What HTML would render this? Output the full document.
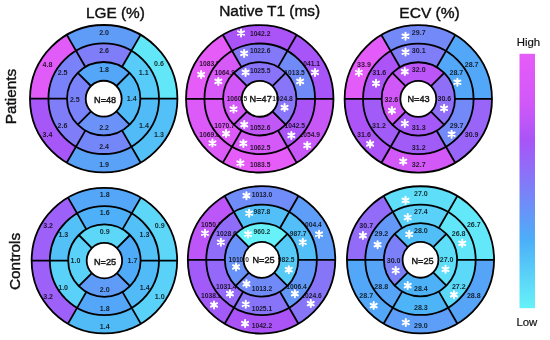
<!DOCTYPE html>
<html><head><meta charset="utf-8"><style>
html,body{margin:0;padding:0;background:#fff;}
body{width:550px;height:340px;overflow:hidden;}
svg{display:block;}
text{font-family:"Liberation Sans",Arial,sans-serif;}
.v{font-size:6.7px;font-weight:bold;fill:rgba(0,0,0,0.8);}
.n{font-size:9.6px;fill:#1a1a1a;stroke:#1a1a1a;stroke-width:0.45px;}
.t{font-size:15.5px;fill:#111;stroke:#111;stroke-width:0.4px;}
.c{font-size:11.4px;fill:#111;stroke:#111;stroke-width:0.2px;}
</style></head><body>
<svg width="550" height="340" viewBox="0 0 550 340">
<defs><linearGradient id="cb" x1="0" y1="0" x2="0" y2="1"><stop offset="0.000" stop-color="#E65CF8"/><stop offset="0.200" stop-color="#D058F8"/><stop offset="0.340" stop-color="#A954F8"/><stop offset="0.500" stop-color="#8478F8"/><stop offset="0.730" stop-color="#4CAEF8"/><stop offset="1.000" stop-color="#66F2F8"/></linearGradient></defs>
<text class="t" x="85.9" y="17.7" textLength="59" lengthAdjust="spacingAndGlyphs">LGE (%)</text>
<text class="t" x="219.2" y="16.3" textLength="101" lengthAdjust="spacingAndGlyphs">Native T1 (ms)</text>
<text class="t" x="399.3" y="17.7" textLength="60.5" lengthAdjust="spacingAndGlyphs">ECV (%)</text>
<text class="t" transform="translate(16.2,124.3) rotate(-90)" x="0" y="0" textLength="55.5" lengthAdjust="spacingAndGlyphs">Patients</text>
<text class="t" transform="translate(19.5,290.1) rotate(-90)" x="0" y="0" textLength="57.3" lengthAdjust="spacingAndGlyphs">Controls</text>
<path d="M140.56,34.86A73.72,73.72 0 0 0 66.84,34.86L76.06,50.82A55.29,55.29 0 0 1 131.34,50.82Z" fill="#5f9cf8"/>
<path d="M66.84,34.86A73.72,73.72 0 0 0 29.98,98.70L48.41,98.70A55.29,55.29 0 0 1 76.06,50.82Z" fill="#e15bf8"/>
<path d="M29.98,98.70A73.72,73.72 0 0 0 66.84,162.54L76.05,146.58A55.29,55.29 0 0 1 48.41,98.70Z" fill="#a756f8"/>
<path d="M66.84,162.54A73.72,73.72 0 0 0 140.56,162.54L131.34,146.58A55.29,55.29 0 0 1 76.05,146.58Z" fill="#5aa1f8"/>
<path d="M140.56,162.54A73.72,73.72 0 0 0 177.42,98.70L158.99,98.70A55.29,55.29 0 0 1 131.34,146.58Z" fill="#53c1f8"/>
<path d="M177.42,98.70A73.72,73.72 0 0 0 140.56,34.86L131.34,50.82A55.29,55.29 0 0 1 158.99,98.70Z" fill="#62e7f8"/>
<text x="104.10" y="35.25" text-anchor="middle" class="v" style="font-size:7.1px">2.0</text>
<text x="42.50" y="66.50" text-anchor="start" class="v" style="font-size:7.1px">4.8</text>
<text x="42.50" y="136.90" text-anchor="start" class="v" style="font-size:7.1px">3.4</text>
<text x="104.10" y="166.65" text-anchor="middle" class="v" style="font-size:7.1px">1.9</text>
<text x="163.90" y="136.60" text-anchor="end" class="v" style="font-size:7.1px">1.3</text>
<text x="163.90" y="66.30" text-anchor="end" class="v" style="font-size:7.1px">0.6</text>
<path d="M131.34,50.82A55.29,55.29 0 0 0 76.06,50.82L85.36,66.94A36.68,36.68 0 0 1 122.04,66.94Z" fill="#7f7df8"/>
<path d="M76.06,50.82A55.29,55.29 0 0 0 48.41,98.70L67.02,98.70A36.68,36.68 0 0 1 85.36,66.94Z" fill="#7982f8"/>
<path d="M48.41,98.70A55.29,55.29 0 0 0 76.05,146.58L85.36,130.46A36.68,36.68 0 0 1 67.02,98.70Z" fill="#7f7df8"/>
<path d="M76.05,146.58A55.29,55.29 0 0 0 131.34,146.58L122.04,130.46A36.68,36.68 0 0 1 85.36,130.46Z" fill="#7487f8"/>
<path d="M131.34,146.58A55.29,55.29 0 0 0 158.99,98.70L140.38,98.70A36.68,36.68 0 0 1 122.04,130.46Z" fill="#51bbf8"/>
<path d="M158.99,98.70A55.29,55.29 0 0 0 131.34,50.82L122.04,66.94A36.68,36.68 0 0 1 140.38,98.70Z" fill="#57ccf8"/>
<text x="104.10" y="53.05" text-anchor="middle" class="v" style="font-size:7.1px">2.6</text>
<text x="57.70" y="75.10" text-anchor="start" class="v" style="font-size:7.1px">2.5</text>
<text x="57.50" y="127.90" text-anchor="start" class="v" style="font-size:7.1px">2.6</text>
<text x="104.10" y="149.35" text-anchor="middle" class="v" style="font-size:7.1px">2.4</text>
<text x="148.90" y="127.70" text-anchor="end" class="v" style="font-size:7.1px">1.4</text>
<text x="148.70" y="75.10" text-anchor="end" class="v" style="font-size:7.1px">1.1</text>
<path d="M129.63,72.77A36.68,36.68 0 0 0 77.77,72.77L90.99,85.99A17.97,17.97 0 0 1 116.41,85.99Z" fill="#54a6f8"/>
<path d="M77.77,72.77A36.68,36.68 0 0 0 77.77,124.63L90.99,111.41A17.97,17.97 0 0 1 90.99,85.99Z" fill="#7982f8"/>
<path d="M77.77,124.63A36.68,36.68 0 0 0 129.63,124.63L116.41,111.41A17.97,17.97 0 0 1 90.99,111.41Z" fill="#6a92f8"/>
<path d="M129.63,124.63A36.68,36.68 0 0 0 129.63,72.77L116.41,85.99A17.97,17.97 0 0 1 116.41,111.41Z" fill="#51bbf8"/>
<circle cx="103.7" cy="98.7" r="17.97" fill="#fff"/>
<text x="104.10" y="72.15" text-anchor="middle" class="v" style="font-size:7.1px">1.8</text>
<text x="69.90" y="101.50" text-anchor="start" class="v" style="font-size:7.1px">2.5</text>
<text x="104.10" y="130.05" text-anchor="middle" class="v" style="font-size:7.1px">2.2</text>
<text x="136.70" y="101.10" text-anchor="end" class="v" style="font-size:7.1px">1.4</text>
<text x="105.10" y="102.60" text-anchor="middle" class="n" textLength="22.2" lengthAdjust="spacingAndGlyphs">N=48</text>
<g fill="none" stroke="#000" stroke-width="1.8"><circle cx="103.7" cy="98.7" r="17.97" fill="none"/><circle cx="103.7" cy="98.7" r="36.68" fill="none"/><circle cx="103.7" cy="98.7" r="55.29" fill="none"/><circle cx="103.7" cy="98.7" r="73.72" fill="none"/><path d="M140.56,98.70L177.42,98.70M122.13,66.78L140.56,34.86M85.27,66.78L66.84,34.86M66.84,98.70L29.98,98.70M85.27,130.62L66.84,162.54M122.13,130.62L140.56,162.54M116.41,85.99L129.63,72.77M90.99,85.99L77.77,72.77M90.99,111.41L77.77,124.63M116.41,111.41L129.63,124.63"/></g><path d="M296.61,34.96A73.72,73.72 0 0 0 222.89,34.96L232.11,50.92A55.29,55.29 0 0 1 287.39,50.92Z" fill="#aa54f8"/>
<path d="M222.89,34.96A73.72,73.72 0 0 0 186.03,98.80L204.46,98.80A55.29,55.29 0 0 1 232.11,50.92Z" fill="#e65cf8"/>
<path d="M186.03,98.80A73.72,73.72 0 0 0 222.89,162.64L232.10,146.68A55.29,55.29 0 0 1 204.46,98.80Z" fill="#db5af8"/>
<path d="M222.89,162.64A73.72,73.72 0 0 0 296.61,162.64L287.39,146.68A55.29,55.29 0 0 1 232.10,146.68Z" fill="#e65cf8"/>
<path d="M296.61,162.64A73.72,73.72 0 0 0 333.47,98.80L315.04,98.80A55.29,55.29 0 0 1 287.39,146.68Z" fill="#c857f8"/>
<path d="M333.47,98.80A73.72,73.72 0 0 0 296.61,34.96L287.39,50.92A55.29,55.29 0 0 1 315.04,98.80Z" fill="#a755f8"/>
<text x="260.15" y="35.60" text-anchor="middle" class="v" style="font-size:6.7px">1042.2</text>
<text x="199.25" y="66.40" text-anchor="start" class="v" style="font-size:6.7px">1083.5</text>
<text x="199.25" y="136.80" text-anchor="start" class="v" style="font-size:6.7px">1069.8</text>
<text x="260.15" y="167.00" text-anchor="middle" class="v" style="font-size:6.7px">1083.5</text>
<text x="319.95" y="136.50" text-anchor="end" class="v" style="font-size:6.7px">1054.9</text>
<text x="319.95" y="66.20" text-anchor="end" class="v" style="font-size:6.7px">1041.1</text>
<path d="M241.05,36.50L241.05,29.50M238.02,34.75L244.08,31.25M238.02,31.25L244.08,34.75" stroke="#fff" stroke-width="2.0" stroke-linecap="round"/>
<path d="M201.15,78.10L201.15,71.10M198.12,76.35L204.18,72.85M198.12,72.85L204.18,76.35" stroke="#fff" stroke-width="2.0" stroke-linecap="round"/>
<path d="M212.45,146.60L212.45,139.60M209.42,144.85L215.48,141.35M209.42,141.35L215.48,144.85" stroke="#fff" stroke-width="2.0" stroke-linecap="round"/>
<path d="M240.35,166.60L240.35,159.60M237.32,164.85L243.38,161.35M237.32,161.35L243.38,164.85" stroke="#fff" stroke-width="2.0" stroke-linecap="round"/>
<path d="M307.25,148.90L307.25,141.90M304.22,147.15L310.28,143.65M304.22,143.65L310.28,147.15" stroke="#fff" stroke-width="2.0" stroke-linecap="round"/>
<path d="M314.95,75.90L314.95,68.90M311.92,74.15L317.98,70.65M311.92,70.65L317.98,74.15" stroke="#fff" stroke-width="2.0" stroke-linecap="round"/>
<path d="M287.39,50.92A55.29,55.29 0 0 0 232.11,50.92L241.41,67.04A36.68,36.68 0 0 1 278.09,67.04Z" fill="#8379f8"/>
<path d="M232.11,50.92A55.29,55.29 0 0 0 204.46,98.80L223.07,98.80A36.68,36.68 0 0 1 241.41,67.04Z" fill="#d659f8"/>
<path d="M204.46,98.80A55.29,55.29 0 0 0 232.10,146.68L241.41,130.56A36.68,36.68 0 0 1 223.07,98.80Z" fill="#db5af8"/>
<path d="M232.10,146.68A55.29,55.29 0 0 0 287.39,146.68L278.09,130.56A36.68,36.68 0 0 1 241.41,130.56Z" fill="#d459f8"/>
<path d="M287.39,146.68A55.29,55.29 0 0 0 315.04,98.80L296.43,98.80A36.68,36.68 0 0 1 278.09,130.56Z" fill="#aa54f8"/>
<path d="M315.04,98.80A55.29,55.29 0 0 0 287.39,50.92L278.09,67.04A36.68,36.68 0 0 1 296.43,98.80Z" fill="#708bf8"/>
<text x="260.15" y="53.40" text-anchor="middle" class="v" style="font-size:6.7px">1022.6</text>
<text x="214.45" y="75.00" text-anchor="start" class="v" style="font-size:6.7px">1064.9</text>
<text x="214.25" y="127.80" text-anchor="start" class="v" style="font-size:6.7px">1070.7</text>
<text x="260.15" y="149.70" text-anchor="middle" class="v" style="font-size:6.7px">1062.5</text>
<text x="304.95" y="127.60" text-anchor="end" class="v" style="font-size:6.7px">1042.5</text>
<text x="304.75" y="75.00" text-anchor="end" class="v" style="font-size:6.7px">1013.5</text>
<path d="M244.15,56.90L244.15,49.90M241.12,55.15L247.18,51.65M241.12,51.65L247.18,55.15" stroke="#fff" stroke-width="2.0" stroke-linecap="round"/>
<path d="M218.35,84.90L218.35,77.90M215.32,83.15L221.38,79.65M215.32,79.65L221.38,83.15" stroke="#fff" stroke-width="2.0" stroke-linecap="round"/>
<path d="M226.05,137.10L226.05,130.10M223.02,135.35L229.08,131.85M223.02,131.85L229.08,135.35" stroke="#fff" stroke-width="2.0" stroke-linecap="round"/>
<path d="M243.35,146.90L243.35,139.90M240.32,145.15L246.38,141.65M240.32,141.65L246.38,145.15" stroke="#fff" stroke-width="2.0" stroke-linecap="round"/>
<path d="M291.35,138.90L291.35,131.90M288.32,137.15L294.38,133.65M288.32,133.65L294.38,137.15" stroke="#fff" stroke-width="2.0" stroke-linecap="round"/>
<path d="M300.15,84.90L300.15,77.90M297.12,83.15L303.18,79.65M297.12,79.65L303.18,83.15" stroke="#fff" stroke-width="2.0" stroke-linecap="round"/>
<path d="M285.68,72.87A36.68,36.68 0 0 0 233.82,72.87L247.04,86.09A17.97,17.97 0 0 1 272.46,86.09Z" fill="#8973f8"/>
<path d="M233.82,72.87A36.68,36.68 0 0 0 233.82,124.73L247.04,111.51A17.97,17.97 0 0 1 247.04,86.09Z" fill="#d258f8"/>
<path d="M233.82,124.73A36.68,36.68 0 0 0 285.68,124.73L272.46,111.51A17.97,17.97 0 0 1 247.04,111.51Z" fill="#c257f8"/>
<path d="M285.68,124.73A36.68,36.68 0 0 0 285.68,72.87L272.46,86.09A17.97,17.97 0 0 1 272.46,111.51Z" fill="#8875f8"/>
<circle cx="259.75" cy="98.8" r="17.97" fill="#fff"/>
<text x="260.15" y="72.50" text-anchor="middle" class="v" style="font-size:6.7px">1025.5</text>
<text x="226.65" y="101.40" text-anchor="start" class="v" style="font-size:6.7px">1060.5</text>
<text x="260.15" y="130.40" text-anchor="middle" class="v" style="font-size:6.7px">1052.6</text>
<text x="292.75" y="101.00" text-anchor="end" class="v" style="font-size:6.7px">1024.8</text>
<path d="M245.55,75.90L245.55,68.90M242.52,74.15L248.58,70.65M242.52,70.65L248.58,74.15" stroke="#fff" stroke-width="2.0" stroke-linecap="round"/>
<path d="M233.55,112.60L233.55,105.60M230.52,110.85L236.58,107.35M230.52,107.35L236.58,110.85" stroke="#fff" stroke-width="2.0" stroke-linecap="round"/>
<path d="M244.25,128.10L244.25,121.10M241.22,126.35L247.28,122.85M241.22,122.85L247.28,126.35" stroke="#fff" stroke-width="2.0" stroke-linecap="round"/>
<path d="M284.55,111.10L284.55,104.10M281.52,109.35L287.58,105.85M281.52,105.85L287.58,109.35" stroke="#fff" stroke-width="2.0" stroke-linecap="round"/>
<text x="260.65" y="101.80" text-anchor="middle" class="n" textLength="22.2" lengthAdjust="spacingAndGlyphs">N=47</text>
<g fill="none" stroke="#000" stroke-width="1.8"><circle cx="259.75" cy="98.8" r="17.97" fill="none"/><circle cx="259.75" cy="98.8" r="36.68" fill="none"/><circle cx="259.75" cy="98.8" r="55.29" fill="none"/><circle cx="259.75" cy="98.8" r="73.72" fill="none"/><path d="M296.61,98.80L333.47,98.80M278.18,66.88L296.61,34.96M241.32,66.88L222.89,34.96M222.89,98.80L186.03,98.80M241.32,130.72L222.89,162.64M278.18,130.72L296.61,162.64M272.46,86.09L285.68,72.87M247.04,86.09L233.82,72.87M247.04,111.51L233.82,124.73M272.46,111.51L285.68,124.73"/></g><path d="M455.14,35.09A73.68,73.68 0 0 0 381.46,35.09L390.67,51.04A55.26,55.26 0 0 1 445.93,51.04Z" fill="#7389f8"/>
<path d="M381.46,35.09A73.68,73.68 0 0 0 344.62,98.90L363.04,98.90A55.26,55.26 0 0 1 390.67,51.04Z" fill="#e35bf8"/>
<path d="M344.62,98.90A73.68,73.68 0 0 0 381.46,162.71L390.67,146.76A55.26,55.26 0 0 1 363.04,98.90Z" fill="#ad54f8"/>
<path d="M381.46,162.71A73.68,73.68 0 0 0 455.14,162.71L445.93,146.76A55.26,55.26 0 0 1 390.67,146.76Z" fill="#d258f8"/>
<path d="M455.14,162.71A73.68,73.68 0 0 0 491.98,98.90L473.56,98.90A55.26,55.26 0 0 1 445.93,146.76Z" fill="#9865f8"/>
<path d="M491.98,98.90A73.68,73.68 0 0 0 455.14,35.09L445.93,51.04A55.26,55.26 0 0 1 473.56,98.90Z" fill="#53a7f8"/>
<text x="418.70" y="35.45" text-anchor="middle" class="v" style="font-size:7.1px">29.7</text>
<text x="357.10" y="66.70" text-anchor="start" class="v" style="font-size:7.1px">33.9</text>
<text x="357.10" y="137.10" text-anchor="start" class="v" style="font-size:7.1px">31.6</text>
<text x="418.70" y="166.85" text-anchor="middle" class="v" style="font-size:7.1px">32.7</text>
<text x="478.50" y="136.80" text-anchor="end" class="v" style="font-size:7.1px">30.9</text>
<text x="478.50" y="66.50" text-anchor="end" class="v" style="font-size:7.1px">28.7</text>
<path d="M405.50,39.70L405.50,32.70M402.47,37.95L408.53,34.45M402.47,34.45L408.53,37.95" stroke="#fff" stroke-width="2.0" stroke-linecap="round"/>
<path d="M358.80,76.00L358.80,69.00M355.77,74.25L361.83,70.75M355.77,70.75L361.83,74.25" stroke="#fff" stroke-width="2.0" stroke-linecap="round"/>
<path d="M370.10,147.40L370.10,140.40M367.07,145.65L373.13,142.15M367.07,142.15L373.13,145.65" stroke="#fff" stroke-width="2.0" stroke-linecap="round"/>
<path d="M403.20,164.80L403.20,157.80M400.17,163.05L406.23,159.55M400.17,159.55L406.23,163.05" stroke="#fff" stroke-width="2.0" stroke-linecap="round"/>
<path d="M445.93,51.04A55.26,55.26 0 0 0 390.67,51.04L399.97,67.16A36.66,36.66 0 0 1 436.63,67.16Z" fill="#7f7df8"/>
<path d="M390.67,51.04A55.26,55.26 0 0 0 363.04,98.90L381.64,98.90A36.66,36.66 0 0 1 399.97,67.16Z" fill="#ad54f8"/>
<path d="M363.04,98.90A55.26,55.26 0 0 0 390.67,146.76L399.97,130.64A36.66,36.66 0 0 1 381.64,98.90Z" fill="#a15cf8"/>
<path d="M390.67,146.76A55.26,55.26 0 0 0 445.93,146.76L436.63,130.64A36.66,36.66 0 0 1 399.97,130.64Z" fill="#a15cf8"/>
<path d="M445.93,146.76A55.26,55.26 0 0 0 473.56,98.90L454.96,98.90A36.66,36.66 0 0 1 436.63,130.64Z" fill="#7389f8"/>
<path d="M473.56,98.90A55.26,55.26 0 0 0 445.93,51.04L436.63,67.16A36.66,36.66 0 0 1 454.96,98.90Z" fill="#53a7f8"/>
<text x="418.70" y="53.25" text-anchor="middle" class="v" style="font-size:7.1px">30.1</text>
<text x="372.30" y="75.30" text-anchor="start" class="v" style="font-size:7.1px">31.6</text>
<text x="372.10" y="128.10" text-anchor="start" class="v" style="font-size:7.1px">31.2</text>
<text x="418.70" y="149.55" text-anchor="middle" class="v" style="font-size:7.1px">31.2</text>
<text x="463.50" y="127.90" text-anchor="end" class="v" style="font-size:7.1px">29.7</text>
<text x="463.30" y="75.30" text-anchor="end" class="v" style="font-size:7.1px">28.7</text>
<path d="M405.50,55.60L405.50,48.60M402.47,53.85L408.53,50.35M402.47,50.35L408.53,53.85" stroke="#fff" stroke-width="2.0" stroke-linecap="round"/>
<path d="M376.00,86.80L376.00,79.80M372.97,85.05L379.03,81.55M372.97,81.55L379.03,85.05" stroke="#fff" stroke-width="2.0" stroke-linecap="round"/>
<path d="M451.60,137.70L451.60,130.70M448.57,135.95L454.63,132.45M448.57,132.45L454.63,135.95" stroke="#fff" stroke-width="2.0" stroke-linecap="round"/>
<path d="M457.40,85.70L457.40,78.70M454.37,83.95L460.43,80.45M454.37,80.45L460.43,83.95" stroke="#fff" stroke-width="2.0" stroke-linecap="round"/>
<path d="M444.22,72.98A36.66,36.66 0 0 0 392.38,72.98L405.60,86.20A17.96,17.96 0 0 1 431.00,86.20Z" fill="#bc56f8"/>
<path d="M392.38,72.98A36.66,36.66 0 0 0 392.38,124.82L405.60,111.60A17.96,17.96 0 0 1 405.60,86.20Z" fill="#d158f8"/>
<path d="M392.38,124.82A36.66,36.66 0 0 0 444.22,124.82L431.00,111.60A17.96,17.96 0 0 1 405.60,111.60Z" fill="#a459f8"/>
<path d="M444.22,124.82A36.66,36.66 0 0 0 444.22,72.98L431.00,86.20A17.96,17.96 0 0 1 431.00,111.60Z" fill="#8f6ef8"/>
<circle cx="418.3" cy="98.9" r="17.96" fill="#fff"/>
<text x="418.70" y="72.35" text-anchor="middle" class="v" style="font-size:7.1px">32.0</text>
<text x="384.50" y="101.70" text-anchor="start" class="v" style="font-size:7.1px">32.6</text>
<text x="418.70" y="130.25" text-anchor="middle" class="v" style="font-size:7.1px">31.3</text>
<text x="451.30" y="101.30" text-anchor="end" class="v" style="font-size:7.1px">30.6</text>
<path d="M404.80,75.10L404.80,68.10M401.77,73.35L407.83,69.85M401.77,69.85L407.83,73.35" stroke="#fff" stroke-width="2.0" stroke-linecap="round"/>
<path d="M391.90,114.10L391.90,107.10M388.87,112.35L394.93,108.85M388.87,108.85L394.93,112.35" stroke="#fff" stroke-width="2.0" stroke-linecap="round"/>
<path d="M404.80,127.00L404.80,120.00M401.77,125.25L407.83,121.75M401.77,121.75L407.83,125.25" stroke="#fff" stroke-width="2.0" stroke-linecap="round"/>
<path d="M444.10,111.80L444.10,104.80M441.07,110.05L447.13,106.55M441.07,106.55L447.13,110.05" stroke="#fff" stroke-width="2.0" stroke-linecap="round"/>
<text x="418.50" y="102.10" text-anchor="middle" class="n" textLength="22.2" lengthAdjust="spacingAndGlyphs">N=43</text>
<g fill="none" stroke="#000" stroke-width="1.8"><circle cx="418.3" cy="98.9" r="17.96" fill="none"/><circle cx="418.3" cy="98.9" r="36.66" fill="none"/><circle cx="418.3" cy="98.9" r="55.26" fill="none"/><circle cx="418.3" cy="98.9" r="73.68" fill="none"/><path d="M455.14,98.90L491.98,98.90M436.72,67.00L455.14,35.09M399.88,67.00L381.46,35.09M381.46,98.90L344.62,98.90M399.88,130.80L381.46,162.71M436.72,130.80L455.14,162.71M431.00,86.20L444.22,72.98M405.60,86.20L392.38,72.98M405.60,111.60L392.38,124.82M431.00,111.60L444.22,124.82"/></g><path d="M140.78,197.59A72.76,72.76 0 0 0 68.02,197.59L77.12,213.34A54.57,54.57 0 0 1 131.69,213.34Z" fill="#54a6f8"/>
<path d="M68.02,197.59A72.76,72.76 0 0 0 31.64,260.60L49.83,260.60A54.57,54.57 0 0 1 77.12,213.34Z" fill="#9d60f8"/>
<path d="M31.64,260.60A72.76,72.76 0 0 0 68.02,323.61L77.11,307.86A54.57,54.57 0 0 1 49.83,260.60Z" fill="#9d60f8"/>
<path d="M68.02,323.61A72.76,72.76 0 0 0 140.78,323.61L131.69,307.86A54.57,54.57 0 0 1 77.11,307.86Z" fill="#51bbf8"/>
<path d="M140.78,323.61A72.76,72.76 0 0 0 177.16,260.60L158.97,260.60A54.57,54.57 0 0 1 131.69,307.86Z" fill="#59d1f8"/>
<path d="M177.16,260.60A72.76,72.76 0 0 0 140.78,197.59L131.69,213.34A54.57,54.57 0 0 1 158.97,260.60Z" fill="#5cd7f8"/>
<text x="104.80" y="197.15" text-anchor="middle" class="v" style="font-size:7.1px">1.8</text>
<text x="43.20" y="228.40" text-anchor="start" class="v" style="font-size:7.1px">3.2</text>
<text x="43.20" y="298.80" text-anchor="start" class="v" style="font-size:7.1px">3.2</text>
<text x="104.80" y="328.55" text-anchor="middle" class="v" style="font-size:7.1px">1.4</text>
<text x="164.60" y="298.50" text-anchor="end" class="v" style="font-size:7.1px">1.0</text>
<text x="164.60" y="228.20" text-anchor="end" class="v" style="font-size:7.1px">0.9</text>
<path d="M131.69,213.34A54.57,54.57 0 0 0 77.12,213.34L86.30,229.25A36.20,36.20 0 0 1 122.50,229.25Z" fill="#4db0f8"/>
<path d="M77.12,213.34A54.57,54.57 0 0 0 49.83,260.60L68.20,260.60A36.20,36.20 0 0 1 86.30,229.25Z" fill="#53c1f8"/>
<path d="M49.83,260.60A54.57,54.57 0 0 0 77.11,307.86L86.30,291.95A36.20,36.20 0 0 1 68.20,260.60Z" fill="#59d1f8"/>
<path d="M77.11,307.86A54.57,54.57 0 0 0 131.69,307.86L122.50,291.95A36.20,36.20 0 0 1 86.30,291.95Z" fill="#54a6f8"/>
<path d="M131.69,307.86A54.57,54.57 0 0 0 158.97,260.60L140.60,260.60A36.20,36.20 0 0 1 122.50,291.95Z" fill="#51bbf8"/>
<path d="M158.97,260.60A54.57,54.57 0 0 0 131.69,213.34L122.50,229.25A36.20,36.20 0 0 1 140.60,260.60Z" fill="#53c1f8"/>
<text x="104.80" y="214.95" text-anchor="middle" class="v" style="font-size:7.1px">1.6</text>
<text x="58.40" y="237.00" text-anchor="start" class="v" style="font-size:7.1px">1.3</text>
<text x="58.20" y="289.80" text-anchor="start" class="v" style="font-size:7.1px">1.0</text>
<text x="104.80" y="311.25" text-anchor="middle" class="v" style="font-size:7.1px">1.8</text>
<text x="149.60" y="289.60" text-anchor="end" class="v" style="font-size:7.1px">1.4</text>
<text x="149.40" y="237.00" text-anchor="end" class="v" style="font-size:7.1px">1.3</text>
<path d="M130.00,235.00A36.20,36.20 0 0 0 78.80,235.00L91.86,248.06A17.74,17.74 0 0 1 116.94,248.06Z" fill="#5cd7f8"/>
<path d="M78.80,235.00A36.20,36.20 0 0 0 78.80,286.20L91.86,273.14A17.74,17.74 0 0 1 91.86,248.06Z" fill="#59d1f8"/>
<path d="M78.80,286.20A36.20,36.20 0 0 0 130.00,286.20L116.94,273.14A17.74,17.74 0 0 1 91.86,273.14Z" fill="#5f9cf8"/>
<path d="M130.00,286.20A36.20,36.20 0 0 0 130.00,235.00L116.94,248.06A17.74,17.74 0 0 1 116.94,273.14Z" fill="#4fabf8"/>
<circle cx="104.4" cy="260.6" r="17.74" fill="#fff"/>
<text x="104.80" y="234.05" text-anchor="middle" class="v" style="font-size:7.1px">0.9</text>
<text x="70.60" y="263.40" text-anchor="start" class="v" style="font-size:7.1px">1.0</text>
<text x="104.80" y="291.95" text-anchor="middle" class="v" style="font-size:7.1px">2.0</text>
<text x="137.40" y="263.00" text-anchor="end" class="v" style="font-size:7.1px">1.7</text>
<text x="105.00" y="264.70" text-anchor="middle" class="n" textLength="22.2" lengthAdjust="spacingAndGlyphs">N=25</text>
<g fill="none" stroke="#000" stroke-width="1.8"><circle cx="104.4" cy="260.6" r="17.74" fill="none"/><circle cx="104.4" cy="260.6" r="36.20" fill="none"/><circle cx="104.4" cy="260.6" r="54.57" fill="none"/><circle cx="104.4" cy="260.6" r="72.76" fill="none"/><path d="M140.78,260.60L177.16,260.60M122.59,229.09L140.78,197.59M86.21,229.09L68.02,197.59M68.02,260.60L31.64,260.60M86.21,292.11L68.02,323.61M122.59,292.11L140.78,323.61M116.94,248.06L130.00,235.00M91.86,248.06L78.80,235.00M91.86,273.14L78.80,286.20M116.94,273.14L130.00,286.20"/></g><path d="M298.41,196.01A73.72,73.72 0 0 0 224.69,196.01L233.91,211.97A55.29,55.29 0 0 1 289.19,211.97Z" fill="#6f8cf8"/>
<path d="M224.69,196.01A73.72,73.72 0 0 0 187.83,259.85L206.26,259.85A55.29,55.29 0 0 1 233.91,211.97Z" fill="#bc56f8"/>
<path d="M187.83,259.85A73.72,73.72 0 0 0 224.69,323.69L233.90,307.73A55.29,55.29 0 0 1 206.26,259.85Z" fill="#a25af8"/>
<path d="M224.69,323.69A73.72,73.72 0 0 0 298.41,323.69L289.19,307.73A55.29,55.29 0 0 1 233.90,307.73Z" fill="#aa54f8"/>
<path d="M298.41,323.69A73.72,73.72 0 0 0 335.27,259.85L316.84,259.85A55.29,55.29 0 0 1 289.19,307.73Z" fill="#8775f8"/>
<path d="M335.27,259.85A73.72,73.72 0 0 0 298.41,196.01L289.19,211.97A55.29,55.29 0 0 1 316.84,259.85Z" fill="#5e9df8"/>
<text x="261.95" y="196.65" text-anchor="middle" class="v" style="font-size:6.7px">1013.0</text>
<text x="201.05" y="227.45" text-anchor="start" class="v" style="font-size:6.7px">1050.1</text>
<text x="201.05" y="297.85" text-anchor="start" class="v" style="font-size:6.7px">1038.5</text>
<text x="261.95" y="328.05" text-anchor="middle" class="v" style="font-size:6.7px">1042.2</text>
<text x="321.75" y="297.55" text-anchor="end" class="v" style="font-size:6.7px">1024.6</text>
<text x="321.75" y="227.25" text-anchor="end" class="v" style="font-size:6.7px">1004.4</text>
<path d="M246.45,199.15L246.45,192.15M243.42,197.40L249.48,193.90M243.42,193.90L249.48,197.40" stroke="#fff" stroke-width="2.0" stroke-linecap="round"/>
<path d="M204.95,236.75L204.95,229.75M201.92,235.00L207.98,231.50M201.92,231.50L207.98,235.00" stroke="#fff" stroke-width="2.0" stroke-linecap="round"/>
<path d="M214.05,308.45L214.05,301.45M211.02,306.70L217.08,303.20M211.02,303.20L217.08,306.70" stroke="#fff" stroke-width="2.0" stroke-linecap="round"/>
<path d="M245.05,327.05L245.05,320.05M242.02,325.30L248.08,321.80M242.02,321.80L248.08,325.30" stroke="#fff" stroke-width="2.0" stroke-linecap="round"/>
<path d="M310.75,307.05L310.75,300.05M307.72,305.30L313.78,301.80M307.72,301.80L313.78,305.30" stroke="#fff" stroke-width="2.0" stroke-linecap="round"/>
<path d="M319.05,237.65L319.05,230.65M316.02,235.90L322.08,232.40M316.02,232.40L322.08,235.90" stroke="#fff" stroke-width="2.0" stroke-linecap="round"/>
<path d="M289.19,211.97A55.29,55.29 0 0 0 233.91,211.97L243.21,228.09A36.68,36.68 0 0 1 279.89,228.09Z" fill="#53bff8"/>
<path d="M233.91,211.97A55.29,55.29 0 0 0 206.26,259.85L224.87,259.85A36.68,36.68 0 0 1 243.21,228.09Z" fill="#8f6df8"/>
<path d="M206.26,259.85A55.29,55.29 0 0 0 233.90,307.73L243.21,291.61A36.68,36.68 0 0 1 224.87,259.85Z" fill="#9468f8"/>
<path d="M233.90,307.73A55.29,55.29 0 0 0 289.19,307.73L279.89,291.61A36.68,36.68 0 0 1 243.21,291.61Z" fill="#8874f8"/>
<path d="M289.19,307.73A55.29,55.29 0 0 0 316.84,259.85L298.23,259.85A36.68,36.68 0 0 1 279.89,291.61Z" fill="#6299f8"/>
<path d="M316.84,259.85A55.29,55.29 0 0 0 289.19,211.97L279.89,228.09A36.68,36.68 0 0 1 298.23,259.85Z" fill="#53bff8"/>
<text x="261.95" y="214.45" text-anchor="middle" class="v" style="font-size:6.7px">987.8</text>
<text x="216.25" y="236.05" text-anchor="start" class="v" style="font-size:6.7px">1028.6</text>
<text x="216.05" y="288.85" text-anchor="start" class="v" style="font-size:6.7px">1031.4</text>
<text x="261.95" y="310.75" text-anchor="middle" class="v" style="font-size:6.7px">1025.1</text>
<text x="306.75" y="288.65" text-anchor="end" class="v" style="font-size:6.7px">1006.4</text>
<text x="306.55" y="236.05" text-anchor="end" class="v" style="font-size:6.7px">987.7</text>
<path d="M249.15,216.75L249.15,209.75M246.12,215.00L252.18,211.50M246.12,211.50L252.18,215.00" stroke="#fff" stroke-width="2.0" stroke-linecap="round"/>
<path d="M220.85,245.75L220.85,238.75M217.82,244.00L223.88,240.50M217.82,240.50L223.88,244.00" stroke="#fff" stroke-width="2.0" stroke-linecap="round"/>
<path d="M229.95,297.15L229.95,290.15M226.92,295.40L232.98,291.90M226.92,291.90L232.98,295.40" stroke="#fff" stroke-width="2.0" stroke-linecap="round"/>
<path d="M245.75,307.75L245.75,300.75M242.72,306.00L248.78,302.50M242.72,302.50L248.78,306.00" stroke="#fff" stroke-width="2.0" stroke-linecap="round"/>
<path d="M294.85,297.15L294.85,290.15M291.82,295.40L297.88,291.90M291.82,291.90L297.88,295.40" stroke="#fff" stroke-width="2.0" stroke-linecap="round"/>
<path d="M302.75,245.75L302.75,238.75M299.72,244.00L305.78,240.50M299.72,240.50L305.78,244.00" stroke="#fff" stroke-width="2.0" stroke-linecap="round"/>
<path d="M287.48,233.92A36.68,36.68 0 0 0 235.62,233.92L248.84,247.14A17.97,17.97 0 0 1 274.26,247.14Z" fill="#66f2f8"/>
<path d="M235.62,233.92A36.68,36.68 0 0 0 235.62,285.78L248.84,272.56A17.97,17.97 0 0 1 248.84,247.14Z" fill="#6992f8"/>
<path d="M235.62,285.78A36.68,36.68 0 0 0 287.48,285.78L274.26,272.56A17.97,17.97 0 0 1 248.84,272.56Z" fill="#708bf8"/>
<path d="M287.48,285.78A36.68,36.68 0 0 0 287.48,233.92L274.26,247.14A17.97,17.97 0 0 1 274.26,272.56Z" fill="#57cbf8"/>
<circle cx="261.55" cy="259.85" r="17.97" fill="#fff"/>
<text x="261.95" y="233.55" text-anchor="middle" class="v" style="font-size:6.7px">960.2</text>
<text x="228.45" y="262.45" text-anchor="start" class="v" style="font-size:6.7px">1010.0</text>
<text x="261.95" y="291.45" text-anchor="middle" class="v" style="font-size:6.7px">1013.2</text>
<text x="294.55" y="262.05" text-anchor="end" class="v" style="font-size:6.7px">982.5</text>
<path d="M248.05,237.65L248.05,230.65M245.02,235.90L251.08,232.40M245.02,232.40L251.08,235.90" stroke="#fff" stroke-width="2.0" stroke-linecap="round"/>
<path d="M236.05,270.45L236.05,263.45M233.02,268.70L239.08,265.20M233.02,265.20L239.08,268.70" stroke="#fff" stroke-width="2.0" stroke-linecap="round"/>
<path d="M246.45,287.35L246.45,280.35M243.42,285.60L249.48,282.10M243.42,282.10L249.48,285.60" stroke="#fff" stroke-width="2.0" stroke-linecap="round"/>
<path d="M288.75,273.15L288.75,266.15M285.72,271.40L291.78,267.90M285.72,267.90L291.78,271.40" stroke="#fff" stroke-width="2.0" stroke-linecap="round"/>
<text x="263.50" y="262.50" text-anchor="middle" class="n" textLength="22.2" lengthAdjust="spacingAndGlyphs">N=25</text>
<g fill="none" stroke="#000" stroke-width="1.8"><circle cx="261.55" cy="259.85" r="17.97" fill="none"/><circle cx="261.55" cy="259.85" r="36.68" fill="none"/><circle cx="261.55" cy="259.85" r="55.29" fill="none"/><circle cx="261.55" cy="259.85" r="73.72" fill="none"/><path d="M298.41,259.85L335.27,259.85M279.98,227.93L298.41,196.01M243.12,227.93L224.69,196.01M224.69,259.85L187.83,259.85M243.12,291.77L224.69,323.69M279.98,291.77L298.41,323.69M274.26,247.14L287.48,233.92M248.84,247.14L235.62,233.92M248.84,272.56L235.62,285.78M274.26,272.56L287.48,285.78"/></g><path d="M457.28,196.10A73.56,73.56 0 0 0 383.72,196.10L392.92,212.02A55.17,55.17 0 0 1 448.09,212.02Z" fill="#5edef8"/>
<path d="M383.72,196.10A73.56,73.56 0 0 0 346.94,259.80L365.33,259.80A55.17,55.17 0 0 1 392.92,212.02Z" fill="#926bf8"/>
<path d="M346.94,259.80A73.56,73.56 0 0 0 383.72,323.50L392.91,307.58A55.17,55.17 0 0 1 365.33,259.80Z" fill="#53a7f8"/>
<path d="M383.72,323.50A73.56,73.56 0 0 0 457.28,323.50L448.09,307.58A55.17,55.17 0 0 1 392.91,307.58Z" fill="#5c9ef8"/>
<path d="M457.28,323.50A73.56,73.56 0 0 0 494.06,259.80L475.67,259.80A55.17,55.17 0 0 1 448.09,307.58Z" fill="#56a4f8"/>
<path d="M494.06,259.80A73.56,73.56 0 0 0 457.28,196.10L448.09,212.02A55.17,55.17 0 0 1 475.67,259.80Z" fill="#62e8f8"/>
<text x="420.90" y="196.35" text-anchor="middle" class="v" style="font-size:7.1px">27.0</text>
<text x="359.30" y="227.60" text-anchor="start" class="v" style="font-size:7.1px">30.7</text>
<text x="359.30" y="298.00" text-anchor="start" class="v" style="font-size:7.1px">28.7</text>
<text x="420.90" y="327.75" text-anchor="middle" class="v" style="font-size:7.1px">29.0</text>
<text x="480.70" y="297.70" text-anchor="end" class="v" style="font-size:7.1px">28.8</text>
<text x="480.70" y="227.40" text-anchor="end" class="v" style="font-size:7.1px">26.7</text>
<path d="M405.50,203.80L405.50,196.80M402.47,202.05L408.53,198.55M402.47,198.55L408.53,202.05" stroke="#fff" stroke-width="2.0" stroke-linecap="round"/>
<path d="M362.90,239.10L362.90,232.10M359.87,237.35L365.93,233.85M359.87,233.85L365.93,237.35" stroke="#fff" stroke-width="2.0" stroke-linecap="round"/>
<path d="M373.70,309.10L373.70,302.10M370.67,307.35L376.73,303.85M370.67,303.85L376.73,307.35" stroke="#fff" stroke-width="2.0" stroke-linecap="round"/>
<path d="M405.80,326.00L405.80,319.00M402.77,324.25L408.83,320.75M402.77,320.75L408.83,324.25" stroke="#fff" stroke-width="2.0" stroke-linecap="round"/>
<path d="M448.09,212.02A55.17,55.17 0 0 0 392.92,212.02L402.20,228.11A36.60,36.60 0 0 1 438.80,228.11Z" fill="#59d1f8"/>
<path d="M392.92,212.02A55.17,55.17 0 0 0 365.33,259.80L383.90,259.80A36.60,36.60 0 0 1 402.20,228.11Z" fill="#6398f8"/>
<path d="M365.33,259.80A55.17,55.17 0 0 0 392.91,307.58L402.20,291.49A36.60,36.60 0 0 1 383.90,259.80Z" fill="#56a4f8"/>
<path d="M392.91,307.58A55.17,55.17 0 0 0 448.09,307.58L438.80,291.49A36.60,36.60 0 0 1 402.20,291.49Z" fill="#4eb4f8"/>
<path d="M448.09,307.58A55.17,55.17 0 0 0 475.67,259.80L457.10,259.80A36.60,36.60 0 0 1 438.80,291.49Z" fill="#5cd8f8"/>
<path d="M475.67,259.80A55.17,55.17 0 0 0 448.09,212.02L438.80,228.11A36.60,36.60 0 0 1 457.10,259.80Z" fill="#61e5f8"/>
<text x="420.90" y="214.15" text-anchor="middle" class="v" style="font-size:7.1px">27.4</text>
<text x="374.50" y="236.20" text-anchor="start" class="v" style="font-size:7.1px">29.2</text>
<text x="374.30" y="289.00" text-anchor="start" class="v" style="font-size:7.1px">28.8</text>
<text x="420.90" y="310.45" text-anchor="middle" class="v" style="font-size:7.1px">28.3</text>
<text x="465.70" y="288.80" text-anchor="end" class="v" style="font-size:7.1px">27.2</text>
<text x="465.50" y="236.20" text-anchor="end" class="v" style="font-size:7.1px">26.8</text>
<path d="M407.70,221.00L407.70,214.00M404.67,219.25L410.73,215.75M404.67,215.75L410.73,219.25" stroke="#fff" stroke-width="2.0" stroke-linecap="round"/>
<path d="M377.60,248.20L377.60,241.20M374.57,246.45L380.63,242.95M374.57,242.95L380.63,246.45" stroke="#fff" stroke-width="2.0" stroke-linecap="round"/>
<path d="M453.90,298.20L453.90,291.20M450.87,296.45L456.93,292.95M450.87,292.95L456.93,296.45" stroke="#fff" stroke-width="2.0" stroke-linecap="round"/>
<path d="M462.20,246.80L462.20,239.80M459.17,245.05L465.23,241.55M459.17,241.55L465.23,245.05" stroke="#fff" stroke-width="2.0" stroke-linecap="round"/>
<path d="M446.38,233.92A36.60,36.60 0 0 0 394.62,233.92L407.82,247.12A17.93,17.93 0 0 1 433.18,247.12Z" fill="#52bef8"/>
<path d="M394.62,233.92A36.60,36.60 0 0 0 394.62,285.68L407.82,272.48A17.93,17.93 0 0 1 407.82,247.12Z" fill="#7c80f8"/>
<path d="M394.62,285.68A36.60,36.60 0 0 0 446.38,285.68L433.18,272.48A17.93,17.93 0 0 1 407.82,272.48Z" fill="#4db1f8"/>
<path d="M446.38,285.68A36.60,36.60 0 0 0 446.38,233.92L433.18,247.12A17.93,17.93 0 0 1 433.18,272.48Z" fill="#5edef8"/>
<circle cx="420.5" cy="259.8" r="17.93" fill="#fff"/>
<text x="420.90" y="233.25" text-anchor="middle" class="v" style="font-size:7.1px">28.0</text>
<text x="386.70" y="262.60" text-anchor="start" class="v" style="font-size:7.1px">30.0</text>
<text x="420.90" y="291.15" text-anchor="middle" class="v" style="font-size:7.1px">28.4</text>
<text x="453.50" y="262.20" text-anchor="end" class="v" style="font-size:7.1px">27.0</text>
<path d="M409.20,237.80L409.20,230.80M406.17,236.05L412.23,232.55M406.17,232.55L412.23,236.05" stroke="#fff" stroke-width="2.0" stroke-linecap="round"/>
<path d="M395.70,274.00L395.70,267.00M392.67,272.25L398.73,268.75M392.67,268.75L398.73,272.25" stroke="#fff" stroke-width="2.0" stroke-linecap="round"/>
<path d="M407.70,289.10L407.70,282.10M404.67,287.35L410.73,283.85M404.67,283.85L410.73,287.35" stroke="#fff" stroke-width="2.0" stroke-linecap="round"/>
<path d="M445.50,272.80L445.50,265.80M442.47,271.05L448.53,267.55M442.47,267.55L448.53,271.05" stroke="#fff" stroke-width="2.0" stroke-linecap="round"/>
<text x="422.50" y="263.80" text-anchor="middle" class="n" textLength="22.2" lengthAdjust="spacingAndGlyphs">N=25</text>
<g fill="none" stroke="#000" stroke-width="1.8"><circle cx="420.5" cy="259.8" r="17.93" fill="none"/><circle cx="420.5" cy="259.8" r="36.60" fill="none"/><circle cx="420.5" cy="259.8" r="55.17" fill="none"/><circle cx="420.5" cy="259.8" r="73.56" fill="none"/><path d="M457.28,259.80L494.06,259.80M438.89,227.95L457.28,196.10M402.11,227.95L383.72,196.10M383.72,259.80L346.94,259.80M402.11,291.65L383.72,323.50M438.89,291.65L457.28,323.50M433.18,247.12L446.38,233.92M407.82,247.12L394.62,233.92M407.82,272.48L394.62,285.68M433.18,272.48L446.38,285.68"/></g>
<rect x="519.5" y="53.8" width="15.5" height="254.4" fill="url(#cb)"/>
<text class="c" x="528.4" y="45.9" text-anchor="middle">High</text>
<text class="c" x="526.9" y="325.9" text-anchor="middle">Low</text>
</svg>
</body></html>
